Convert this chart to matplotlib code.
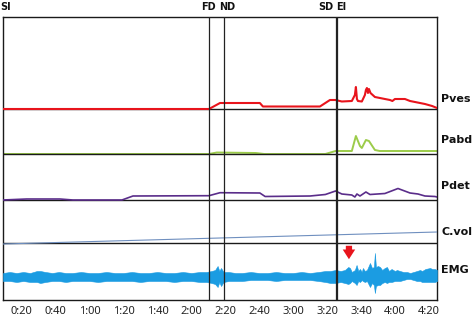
import matplotlib.pyplot as plt
from matplotlib.transforms import blended_transform_factory

# time axis (seconds) and tick labels
tick_secs = [20, 40, 60, 80, 100, 120, 140, 160, 180, 200, 220, 240, 260]
tick_labels = ["0:20", "0:40", "1:00", "1:20", "1:40", "2:00", "2:20",
               "2:40", "3:00", "3:20", "3:40", "4:00", "4:20"]
t_start, t_end = 9.0, 264.8

# event markers
events = {"FD": 130.4, "ND": 139.2, "SD": 205.0, "EI": 206.0}

# traces: (time, value above own baseline)
pves_t = [9, 130.4, 136.9, 160.4, 162.2, 195.8, 201.7, 205, 208.7, 214.6, 216.4, 217.0,
          217.6, 218.2, 220.5, 222.3, 222.9, 223.5, 224.1, 224.7, 225.6, 228.2, 234.1,
          237.1, 238.5, 240, 245.9, 248.9, 257.7, 261.9, 264.8]
pves_v = [0, 0, 6, 6, 2.5, 2.5, 9, 9, 7.5, 8, 14, 22, 10, 8, 7.5, 14, 19, 21, 16, 20,
          16, 12, 10, 9, 8, 10, 10, 8, 5, 3, 1]

pabd_t = [9, 130.4, 135, 158, 163, 199, 205, 214.6, 217.0, 219.4, 220.5, 222.9, 224.7,
          228.2, 231, 264.8]
pabd_v = [0, 0, 1.5, 1, 0, 0, 3, 3, 18, 8, 6, 14, 13, 4, 3, 3]

pdet_t = [9, 23, 42.6, 50.2, 79.1, 85.6, 130.4, 136.9, 160.4, 163.5, 190, 199, 205,
          208.7, 214.6, 216.4, 217.6, 219.4, 222.9, 225.3, 234.1, 241.8, 248.9, 253.6,
          257.7, 263.6, 264.8]
pdet_v = [0, 1, 1, 0, 0, 4, 4.3, 7.3, 7, 3.5, 4, 5.5, 9, 6, 5, 3, 6, 4, 8, 5.5, 6.5,
          11.5, 7, 6, 4, 3.5, 3]

cvol_t = [9, 264.8]
cvol_v = [-1, 11]

# EMG envelope: deviation above / below the band centre
emg_t = [9, 13, 17, 21, 25, 29, 31, 34, 38, 42, 46, 50, 55, 60, 65, 70, 75, 80, 85, 90,
         95, 100, 105, 110, 115, 120, 125, 129, 132, 134, 135.5, 136.5, 137.5, 139, 142,
         146, 150, 155, 160, 165, 170, 175, 180, 185, 190, 195, 199, 202, 205, 208,
         210.5, 212.5, 213.5, 214.6, 216.4, 217.4, 218.4, 219.4, 220.5, 221.1, 222.3,
         223.5, 225.3, 226.5, 227.6, 228.2, 228.8, 230, 231.2, 232.5, 234, 235.3, 236.5,
         238, 240, 241.2, 243, 245, 247.1, 249, 251, 253, 254.8, 256, 258, 260.7, 262,
         263.5, 264.8]
emg_up = [4, 5, 4, 5, 4, 6, 6, 5, 4, 5, 4, 4, 5, 4, 4, 5, 4, 4, 5, 4, 4, 5, 4, 4, 5, 4,
          5, 5, 6, 7, 11, 6, 9, 5, 5, 4, 4, 5, 4, 4, 5, 4, 4, 5, 4, 5, 6, 6, 7, 6, 7, 10,
          9, 5, 7, 12, 6, 8, 5, 9, 6, 7, 14, 9, 10, 24, 10, 11, 10, 7, 9, 10, 6, 8, 6, 7,
          6, 5, 5, 4, 5, 6, 7, 6, 8, 9, 8, 8, 7]
emg_dn = [4, 4, 5, 4, 5, 5, 6, 5, 4, 4, 5, 4, 4, 4, 5, 4, 4, 4, 4, 5, 4, 4, 4, 5, 4, 4,
          5, 5, 6, 7, 10, 5, 9, 5, 4, 4, 4, 3, 3, 3, 4, 3, 3, 3, 3, 4, 5, 6, 6, 5, 6, 7,
          6, 4, 6, 8, 4, 5, 3, 4, 5, 4, 10, 6, 8, 16, 9, 8, 8, 6, 5, 6, 5, 5, 4, 4, 4, 3,
          2, 2, 3, 4, 4, 5, 5, 5, 5, 5, 4]

arrow_t = 212.9

# layout (vertical positions in pixel-like units from the bottom of the frame)
base = {"Pves": 191, "Pabd": 146, "Pdet": 100, "C.vol": 57}
emg_mid = 23
label_y = {"Pves": 201, "Pabd": 160, "Pdet": 114, "C.vol": 68, "EMG": 30}

fig = plt.figure(figsize=(4.74, 3.23), dpi=100)
ax = fig.add_axes([3 / 474, 23 / 323, 434 / 474, 283 / 323])
ax.set_xlim(t_start, t_end)
ax.set_ylim(0, 283)

# traces
ax.plot(pves_t, [base["Pves"] + v for v in pves_v], color="#e8141c", lw=1.5, zorder=3)
ax.plot(pabd_t, [base["Pabd"] + v for v in pabd_v], color="#9ccc4a", lw=1.4, zorder=2)
ax.plot(pdet_t, [base["Pdet"] + v for v in pdet_v], color="#5a2d8a", lw=1.2, zorder=3)
ax.plot(cvol_t, [base["C.vol"] + v for v in cvol_v], color="#6f8fbf", lw=0.8, zorder=3)
ax.fill_between(emg_t, [emg_mid + u for u in emg_up], [emg_mid - d for d in emg_dn],
                color="#1b9ce2", lw=0.4, edgecolor="#1b9ce2", zorder=3)

# panel dividers
for name, y in base.items():
    ax.axhline(y, color="#1a1a1a", lw=1.0, zorder=2.5)

# event lines
for name, t in events.items():
    ax.axvline(t, color="#222222", lw=0.9, zorder=4)

# red arrow in EMG panel
ax.annotate("", xy=(arrow_t, 38), xytext=(arrow_t, 57),
            arrowprops=dict(arrowstyle="simple,head_width=0.9,head_length=0.7,tail_width=0.45",
                            color="#e8141c", lw=0), zorder=5)

# right-side channel labels
trans = blended_transform_factory(ax.transAxes, ax.transData)
for name, y in label_y.items():
    ax.text(1.01, y, name, transform=trans, ha="left", va="center",
            fontsize=8, fontweight="bold", color="#111111")

# event labels on top
lab = dict(fontsize=7, fontweight="bold", color="#111111",
           va="center", annotation_clip=False)
ttop = blended_transform_factory(ax.transData, fig.transFigure)
fig.text(0.0, 0.978, "SI", ha="left", va="center", fontsize=7,
         fontweight="bold", color="#111111")
ax.annotate("FD", xy=(events["FD"], 0.978), xycoords=ttop, xytext=(5, 0),
            textcoords="offset points", ha="right", **lab)
ax.annotate("ND", xy=(events["ND"], 0.978), xycoords=ttop, xytext=(-3.6, 0),
            textcoords="offset points", ha="left", **lab)
ax.annotate("SD", xy=(events["SD"], 0.978), xycoords=ttop, xytext=(-1.5, 0),
            textcoords="offset points", ha="right", **lab)
ax.annotate("EI", xy=(events["EI"], 0.978), xycoords=ttop, xytext=(-1, 0),
            textcoords="offset points", ha="left", **lab)

ax.set_xticks(tick_secs)
ax.set_xticklabels(tick_labels, fontsize=8, family="Noto Sans", color="#222222")
ax.tick_params(axis="x", length=0, pad=4)
ax.set_yticks([])
for s in ax.spines.values():
    s.set_linewidth(1.0)
    s.set_color("#1a1a1a")

fig.savefig("out.png", dpi=100)
